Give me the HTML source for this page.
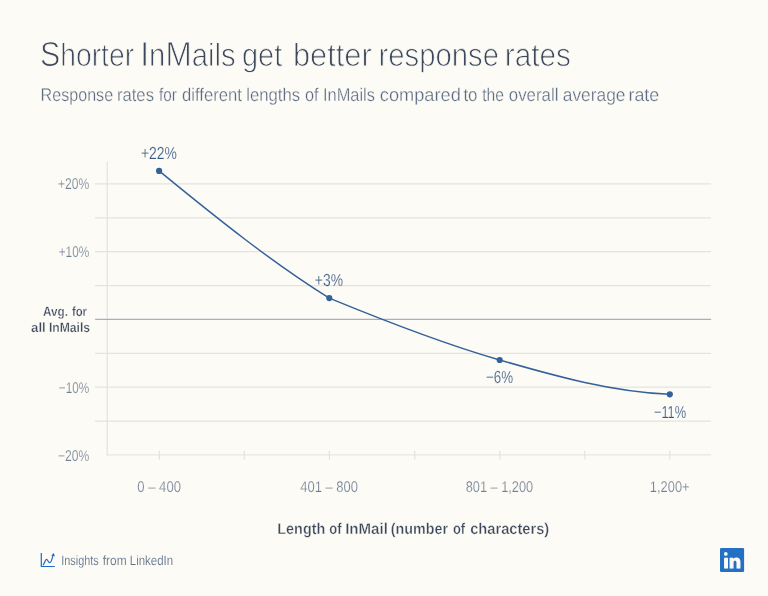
<!DOCTYPE html>
<html><head><meta charset="utf-8"><title>Shorter InMails get better response rates</title>
<style>
html,body{margin:0;padding:0;}
body{width:768px;height:596px;background:#fdfbf6;overflow:hidden;position:relative;font-family:"Liberation Sans",sans-serif;}
svg{position:absolute;left:0;top:0;}
text{font-family:"Liberation Sans",sans-serif;stroke:#fdfbf6;stroke-linejoin:round;text-rendering:geometricPrecision;}
svg{will-change:transform;transform:translateZ(0);}
.title{font-size:32.4px;fill:#3c495c;stroke-width:0.9px;}
.title .cap{font-size:34.8px;}
.sub{font-size:18.4px;fill:#5b6b82;stroke-width:0.3px;}
.ylab{font-size:15.4px;fill:#707e93;stroke-width:0.2px;}
.xlab{font-size:15.4px;fill:#707e93;stroke-width:0.2px;}
.dlab{font-size:17.4px;fill:#375785;stroke-width:0.2px;}
.avg{font-size:13.5px;font-weight:bold;fill:#3c495c;stroke-width:0.3px;}
.xt{font-size:15.7px;font-weight:bold;fill:#3c495c;stroke-width:0.35px;}
.foot{font-size:13.6px;fill:#63748b;stroke-width:0.1px;}
</style></head><body>
<svg width="768" height="596" viewBox="0 0 768 596">
<g id="gfx">
<g stroke="#e5e3de" stroke-width="1.2"><line x1="95" x2="711.1" y1="183.97" y2="183.97"/><line x1="95" x2="711.1" y1="217.84" y2="217.84"/><line x1="95" x2="711.1" y1="251.70" y2="251.70"/><line x1="95" x2="711.1" y1="285.57" y2="285.57"/><line x1="95" x2="711.1" y1="353.31" y2="353.31"/><line x1="95" x2="711.1" y1="387.18" y2="387.18"/><line x1="95" x2="711.1" y1="421.04" y2="421.04"/></g>
<g stroke="#e4e2dd" stroke-width="1.25">
<line x1="107.2" x2="107.2" y1="161.5" y2="455.4"/>
<line x1="106.6" x2="711.1" y1="454.85" y2="454.85" stroke="#e9e7e2"/>
<line x1="159.3" x2="159.3" y1="450.8" y2="459.6"/><line x1="244.3" x2="244.3" y1="450.8" y2="459.6"/><line x1="329.4" x2="329.4" y1="450.8" y2="459.6"/><line x1="414.8" x2="414.8" y1="450.8" y2="459.6"/><line x1="499.8" x2="499.8" y1="450.8" y2="459.6"/><line x1="584.8" x2="584.8" y1="450.8" y2="459.6"/><line x1="669.8" x2="669.8" y1="450.8" y2="459.6"/>
</g>
<line x1="95.1" x2="711.1" y1="319.44" y2="319.44" stroke="#a6b0bd" stroke-width="1.25"/>
<path d="M159.10,170.90 C215.83,217.36 272.57,262.93 329.30,298.10 C386.10,321.50 442.90,343.53 499.70,360.00 C556.40,376.44 613.10,392.03 669.80,394.30" fill="none" stroke="#34619a" stroke-width="1.5"/>
<g fill="#34619a"><circle cx="159.10" cy="170.90" r="3.1"/><circle cx="329.30" cy="298.10" r="3.1"/><circle cx="499.70" cy="360.00" r="3.1"/><circle cx="669.80" cy="394.30" r="3.1"/></g>
<g fill="none" stroke="#1d68c8" stroke-width="1.2" stroke-linecap="butt" stroke-linejoin="miter">
<path d="M41.3,553 V566.5 H54.7"/>
<path d="M43.3,564.8 C44.6,563.4 45.2,559.5 46.5,559.4 C47.8,559.3 48.2,562.7 49.7,562.7 C51.3,562.7 52.2,558.5 53,555.6" stroke-linecap="round"/>
<path d="M51.3,555.6 L53.7,552.9 L54.9,556.3 Z" fill="#1d68c8" stroke="none"/>
</g>
<rect x="720" y="548" width="24.1" height="23.9" rx="1.2" fill="#2470c4"/>
</g>
<text id="t" class="title" y="66.0"><tspan x="39.98" textLength="94.16" lengthAdjust="spacingAndGlyphs"><tspan class="cap">S</tspan>horter</tspan> <tspan x="140.32" textLength="95.46" lengthAdjust="spacingAndGlyphs"><tspan class="cap">I</tspan>n<tspan class="cap">M</tspan>ails</tspan> <tspan x="241.96" textLength="40.30" lengthAdjust="spacingAndGlyphs">get</tspan> <tspan x="292.90" textLength="78.78" lengthAdjust="spacingAndGlyphs">better</tspan> <tspan x="378.52" textLength="120.42" lengthAdjust="spacingAndGlyphs">response</tspan> <tspan x="504.78" textLength="66.26" lengthAdjust="spacingAndGlyphs">rates</tspan></text>
<text id="s" class="sub" y="101.1"><tspan x="40.60" textLength="72.54" lengthAdjust="spacingAndGlyphs">Response</tspan> <tspan x="116.96" textLength="37.00" lengthAdjust="spacingAndGlyphs">rates</tspan> <tspan x="159.00" textLength="17.90" lengthAdjust="spacingAndGlyphs">for</tspan> <tspan x="182.00" textLength="59.90" lengthAdjust="spacingAndGlyphs">different</tspan> <tspan x="246.26" textLength="53.84" lengthAdjust="spacingAndGlyphs">lengths</tspan> <tspan x="305.00" textLength="13.60" lengthAdjust="spacingAndGlyphs">of</tspan> <tspan x="322.94" textLength="52.02" lengthAdjust="spacingAndGlyphs">InMails</tspan> <tspan x="379.80" textLength="80.98" lengthAdjust="spacingAndGlyphs">compared</tspan> <tspan x="463.40" textLength="14.10" lengthAdjust="spacingAndGlyphs">to</tspan> <tspan x="482.20" textLength="21.80" lengthAdjust="spacingAndGlyphs">the</tspan> <tspan x="508.86" textLength="49.54" lengthAdjust="spacingAndGlyphs">overall</tspan> <tspan x="562.80" textLength="62.70" lengthAdjust="spacingAndGlyphs">average</tspan> <tspan x="628.42" textLength="30.90" lengthAdjust="spacingAndGlyphs">rate</tspan></text>
<text id="d1" class="dlab" y="158.7"><tspan x="140.90" textLength="36.00" lengthAdjust="spacingAndGlyphs">+22%</tspan></text>
<text id="d2" class="dlab" y="286.3"><tspan x="314.86" textLength="28.14" lengthAdjust="spacingAndGlyphs">+3%</tspan></text>
<text id="d3" class="dlab" y="382.6"><tspan x="486.00" textLength="27.10" lengthAdjust="spacingAndGlyphs">−6%</tspan></text>
<text id="d4" class="dlab" y="418.2"><tspan x="653.90" textLength="32.20" lengthAdjust="spacingAndGlyphs">−11%</tspan></text>
<text id="y1" class="ylab" y="188.75"><tspan x="58.00" textLength="31.20" lengthAdjust="spacingAndGlyphs">+20%</tspan></text>
<text id="y2" class="ylab" y="256.7"><tspan x="58.74" textLength="30.46" lengthAdjust="spacingAndGlyphs">+10%</tspan></text>
<text id="y3" class="ylab" y="392.5"><tspan x="58.86" textLength="30.34" lengthAdjust="spacingAndGlyphs">−10%</tspan></text>
<text id="y4" class="ylab" y="460.6"><tspan x="58.00" textLength="31.20" lengthAdjust="spacingAndGlyphs">−20%</tspan></text>
<text id="a1" class="avg" y="315.6"><tspan x="42.95" textLength="25.05" lengthAdjust="spacingAndGlyphs">Avg.</tspan> <tspan x="71.90" textLength="15.10" lengthAdjust="spacingAndGlyphs">for</tspan></text>
<text id="a2" class="avg" y="332.2"><tspan x="31.04" textLength="14.74" lengthAdjust="spacingAndGlyphs">all</tspan> <tspan x="48.90" textLength="41.24" lengthAdjust="spacingAndGlyphs">InMails</tspan></text>
<text id="x1" class="xlab" y="491.8"><tspan x="137.20" textLength="43.80" lengthAdjust="spacingAndGlyphs">0 – 400</tspan></text>
<text id="x2" class="xlab" y="491.8"><tspan x="300.20" textLength="57.80" lengthAdjust="spacingAndGlyphs">401 – 800</tspan></text>
<text id="x3" class="xlab" y="491.8"><tspan x="465.68" textLength="67.46" lengthAdjust="spacingAndGlyphs">801 – 1,200</tspan></text>
<text id="x4" class="xlab" y="491.8"><tspan x="649.86" textLength="39.73" lengthAdjust="spacingAndGlyphs">1,200+</tspan></text>
<text id="xt" class="xt" y="534.1"><tspan x="277.32" textLength="48.00" lengthAdjust="spacingAndGlyphs">Length</tspan> <tspan x="329.30" textLength="12.30" lengthAdjust="spacingAndGlyphs">of</tspan> <tspan x="345.14" textLength="42.72" lengthAdjust="spacingAndGlyphs">InMail</tspan> <tspan x="390.74" textLength="57.36" lengthAdjust="spacingAndGlyphs">(number</tspan> <tspan x="452.90" textLength="12.20" lengthAdjust="spacingAndGlyphs">of</tspan> <tspan x="470.20" textLength="79.06" lengthAdjust="spacingAndGlyphs">characters)</tspan></text>
<text id="f" class="foot" y="565"><tspan x="61.26" textLength="37.54" lengthAdjust="spacingAndGlyphs">Insights</tspan> <tspan x="102.80" textLength="23.88" lengthAdjust="spacingAndGlyphs">from</tspan> <tspan x="129.80" textLength="43.34" lengthAdjust="spacingAndGlyphs">LinkedIn</tspan></text>
<clipPath id="lic"><rect x="720" y="556.9" width="24" height="15"/></clipPath>
<text id="li" x="723.2" y="568.1" font-size="18.5" font-weight="bold" fill="#fdfcf8" stroke="none" textLength="18" lengthAdjust="spacingAndGlyphs" clip-path="url(#lic)">in</text>
<circle cx="725.8" cy="553.9" r="1.85" fill="#fdfcf8"/>
</svg>
</body></html>
